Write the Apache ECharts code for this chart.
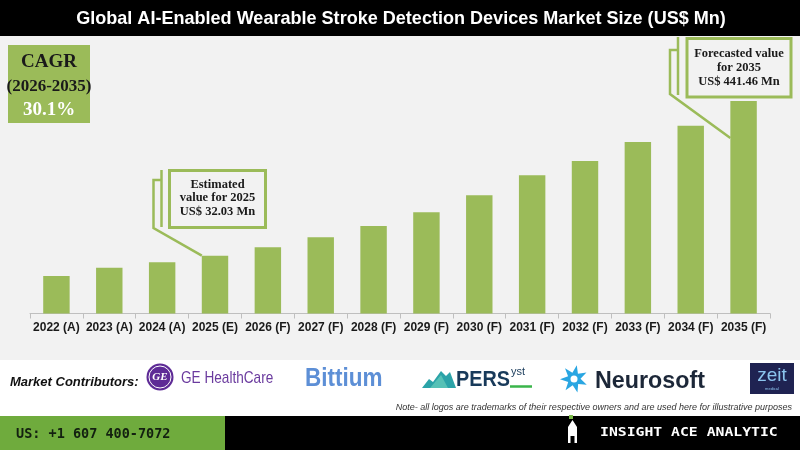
<!DOCTYPE html>
<html>
<head>
<meta charset="utf-8">
<title>AI-Enabled Wearable Stroke Detection Devices Market Size</title>
<script src="https://cdn.jsdelivr.net/npm/echarts@6/dist/echarts.min.js"></script>
<style>
  html,body{margin:0;padding:0;background:#fff;}
  #chart{width:800px;height:450px;}
</style>
</head>
<body>
<div id="chart"></div>
<script>
/* market size bars, 2022 - 2035 */

const years = ["2022 (A)","2023 (A)","2024 (A)","2025 (E)","2026 (F)","2027 (F)","2028 (F)",
               "2029 (F)","2030 (F)","2031 (F)","2032 (F)","2033 (F)","2034 (F)","2035 (F)"];

// bar heights as drawn in the picture (US$ Mn scale, 2035 = 441.46)
const marketSize = [77.9, 95.1, 106.4, 120.1, 137.5, 158.3, 181.8,
                    210.2, 245.6, 287.1, 316.8, 356.3, 390.2, 441.46];

const titleText = "Global AI-Enabled Wearable Stroke Detection Devices Market Size (US$ Mn)";
const cagrLines = ["CAGR", "(2026-2035)", "30.1%"];
const note25 = ["Estimated", "value for 2025", "US$ 32.03 Mn"];
const note35 = ["Forecasted value", "for 2035", "US$ 441.46 Mn"];
const contributors = ["GE HealthCare", "Bittium", "PERS", "yst", "Neurosoft", "zeit", "medical"];

const GREEN = "#9bbb59";
const SERIF = "'Liberation Serif','DejaVu Serif',serif";
const SANS = "'Liberation Sans',Arial,sans-serif";

const chart = echarts.init(document.getElementById("chart"));

// star points for the Neurosoft mark
function starPoints(cx, cy, r1, r2, n){
    const pts = [];
    for(let i=0;i<n*2;i++){
        const r = i%2===0 ? r1 : r2;
        const a = -Math.PI/2 + i*Math.PI/n + 0.2;
        pts.push([cx + r*Math.cos(a), cy + r*Math.sin(a)]);
    }
    return pts;
}

const graphics = [
    // bands
    {id:"bgWhite", type:"rect", shape:{x:0,y:360,width:800,height:56}, style:{fill:"#ffffff"}, silent:true},
    {id:"titleBar", type:"rect", shape:{x:0,y:0,width:800,height:36}, style:{fill:"#000000"}, silent:true},
    {id:"title", type:"text", x:401, y:19, scaleX:0.95,
        style:{text:titleText, fill:"#ffffff", font:"bold 19px "+SANS, textAlign:"center", textVerticalAlign:"middle"}},
    {id:"footGreen", type:"rect", shape:{x:0,y:416,width:225,height:34}, style:{fill:"#6fab3d"}, silent:true},
    {id:"footBlack", type:"rect", shape:{x:225,y:416,width:575,height:34}, style:{fill:"#000000"}, silent:true},

    // CAGR box
    {id:"cagrBox", type:"rect", shape:{x:8,y:45,width:82,height:78}, style:{fill:GREEN}},
    {id:"cagr1", type:"text", x:49, y:62, style:{text:cagrLines[0], fill:"#1a1a1a", font:"bold 19px "+SERIF, textAlign:"center", textVerticalAlign:"middle"}},
    {id:"cagr2", type:"text", x:49, y:87, style:{text:cagrLines[1], fill:"#1a1a1a", font:"bold 17px "+SERIF, textAlign:"center", textVerticalAlign:"middle"}},
    {id:"cagr3", type:"text", x:49, y:110, style:{text:cagrLines[2], fill:"#ffffff", font:"bold 19px "+SERIF, textAlign:"center", textVerticalAlign:"middle"}},

    // callout 2025
    {id:"v25", type:"line", shape:{x1:161.5,y1:170,x2:161.5,y2:227}, style:{stroke:GREEN,lineWidth:2.5}},
    {id:"box25", type:"rect", shape:{x:169.5,y:170.5,width:96,height:57}, style:{fill:"#f2f2f2",stroke:GREEN,lineWidth:3}},
    {id:"txt25", type:"text", x:217.5, y:198,
        style:{text:note25.join("\n"), fill:"#1a1a1a", font:"bold 12.5px "+SERIF, lineHeight:13.5, textAlign:"center", textVerticalAlign:"middle"}},

    // callout 2035
    {id:"v35", type:"line", shape:{x1:678,y1:37,x2:678,y2:95}, style:{stroke:GREEN,lineWidth:2.5}},
    {id:"box35", type:"rect", shape:{x:687,y:38.5,width:104,height:58.5}, style:{fill:"#f2f2f2",stroke:GREEN,lineWidth:3}},
    {id:"txt35", type:"text", x:739, y:67.5,
        style:{text:note35.join("\n"), fill:"#1a1a1a", font:"bold 12.5px "+SERIF, lineHeight:14, textAlign:"center", textVerticalAlign:"middle"}},

    // contributors row
    {id:"mc", type:"text", x:10, y:382, style:{text:"Market Contributors:", fill:"#111111", font:"italic bold 13px "+SANS, textVerticalAlign:"middle"}},

    {id:"geCircle", type:"circle", shape:{cx:160,cy:377,r:13.5}, style:{fill:"#5e2b96"}},
    {id:"geRing", type:"circle", shape:{cx:160,cy:377,r:11}, style:{fill:"none",stroke:"#ffffff",lineWidth:1}},
    {id:"geMono", type:"text", x:160, y:377, style:{text:"GE", fill:"#ffffff", font:"italic bold 11px "+SERIF, textAlign:"center", textVerticalAlign:"middle"}},
    {id:"geName", type:"text", x:181, y:378, scaleX:0.8, style:{text:contributors[0], fill:"#6a3a9e", font:"17px "+SANS, textVerticalAlign:"middle"}},

    {id:"bittium", type:"text", x:305, y:379, scaleX:0.9, style:{text:contributors[1], fill:"#5d8fd6", font:"bold 25px "+SANS, textVerticalAlign:"middle"}},

    {id:"mtn1", type:"polygon", shape:{points:[[422,388],[429,379],[433,382],[441,371],[446,376],[450,372],[456,388]]}, style:{fill:"#2ba3a8"}},
    {id:"mtn2", type:"polygon", shape:{points:[[430,388],[441,375],[448,388]]}, style:{fill:"#56c1b6"}},
    {id:"pers", type:"text", x:456, y:380, scaleX:0.9, style:{text:contributors[2], fill:"#183a5a", font:"bold 22px "+SANS, textVerticalAlign:"middle"}},
    {id:"yst", type:"text", x:511, y:372, style:{text:contributors[3], fill:"#183a5a", font:"11px "+SANS, textVerticalAlign:"middle"}},
    {id:"ystLine", type:"line", shape:{x1:510,y1:386.5,x2:532,y2:386.5}, style:{stroke:"#3ab54a",lineWidth:2.5}},

    {id:"nStar", type:"polygon", shape:{points:starPoints(574,379,14,6.5,7)}, style:{fill:"#2aa6e2"}},
    {id:"nDot", type:"circle", shape:{cx:574,cy:379,r:3.5}, style:{fill:"#ffffff"}},
    {id:"neurosoft", type:"text", x:595, y:381, scaleX:0.97, style:{text:contributors[4], fill:"#1c2738", font:"bold 24px "+SANS, textVerticalAlign:"middle"}},

    {id:"zeitBox", type:"rect", shape:{x:750,y:363,width:44,height:31}, style:{fill:"#1f2352"}},
    {id:"zeit", type:"text", x:772, y:376, style:{text:contributors[5], fill:"#8cc4ee", font:"19px "+SANS, textAlign:"center", textVerticalAlign:"middle"}},
    {id:"zeitSub", type:"text", x:772, y:389, style:{text:contributors[6], fill:"#8cc4ee", font:"4px "+SANS, textAlign:"center", textVerticalAlign:"middle"}},

    {id:"note", type:"text", x:792, y:407,
        style:{text:"Note- all logos are trademarks of their respective owners and are used here for illustrative purposes",
               fill:"#333333", font:"italic 9px "+SANS, textAlign:"right", textVerticalAlign:"middle"}},

    // footer
    {id:"phone", type:"text", x:16, y:434, style:{text:"US: +1 607 400-7072", fill:"#132010", font:"bold 13.5px 'DejaVu Sans Mono',monospace", textVerticalAlign:"middle"}},
    {id:"logoDot", type:"rect", shape:{x:569,y:415,width:4,height:4}, style:{fill:"#7dbb4a"}},
    {id:"logoA", type:"polygon", shape:{points:[[568,443],[568,427],[572.5,420],[577,427],[577,443],[574.5,443],[574.5,436],[570.5,436],[570.5,443]]}, style:{fill:"#ffffff"}},
    {id:"brand", type:"text", x:600, y:433, scaleX:1.23, style:{text:"INSIGHT ACE ANALYTIC", fill:"#ffffff", font:"bold 12px 'DejaVu Sans Mono',monospace", textVerticalAlign:"middle"}}
];

const option = {
    animation:false,
    backgroundColor:"#f2f2f2",
    grid:{
        left:30,
        right:30,
        top:72.8,
        bottom:136.5
    },
    xAxis:{
        type:"category",
        data:years,
        axisLine:{lineStyle:{color:"#bfbfbf",width:1}},
        axisTick:{show:true,length:5,lineStyle:{color:"#bfbfbf"}},
        axisLabel:{
            interval:0,
            margin:8,
            color:"#1a1a1a",
            fontFamily:"Liberation Sans",
            fontWeight:"bold",
            fontSize:12
        }
    },
    yAxis:{
        type:"value",
        min:0,
        max:500,
        show:false
    },
    series:[{
        type:"bar",
        data:marketSize,
        barWidth:"50%",
        itemStyle:{color:GREEN}
    }],
    graphic:graphics
};

chart.setOption(option);

// leader lines from the callouts down to their bars
const p25 = chart.convertToPixel({seriesIndex:0},[3, marketSize[3]]);
const p35 = chart.convertToPixel({seriesIndex:0},[13, marketSize[13]]);
const halfBar = chart.convertToPixel({xAxisIndex:0},1) - chart.convertToPixel({xAxisIndex:0},0);

chart.setOption({
    graphic:[
        {id:"lead25", type:"polyline",
            shape:{points:[[161.5,180],[153.5,180],[153.5,228],[p25[0]-halfBar/4, p25[1]]]},
            style:{stroke:GREEN,lineWidth:2.5,fill:null}},
        {id:"lead35", type:"polyline",
            shape:{points:[[678,50],[670,50],[670,94],[p35[0]-halfBar/4, p35[1]+37]]},
            style:{stroke:GREEN,lineWidth:2.5,fill:null}}
    ]
});
</script>
</body>
</html>
